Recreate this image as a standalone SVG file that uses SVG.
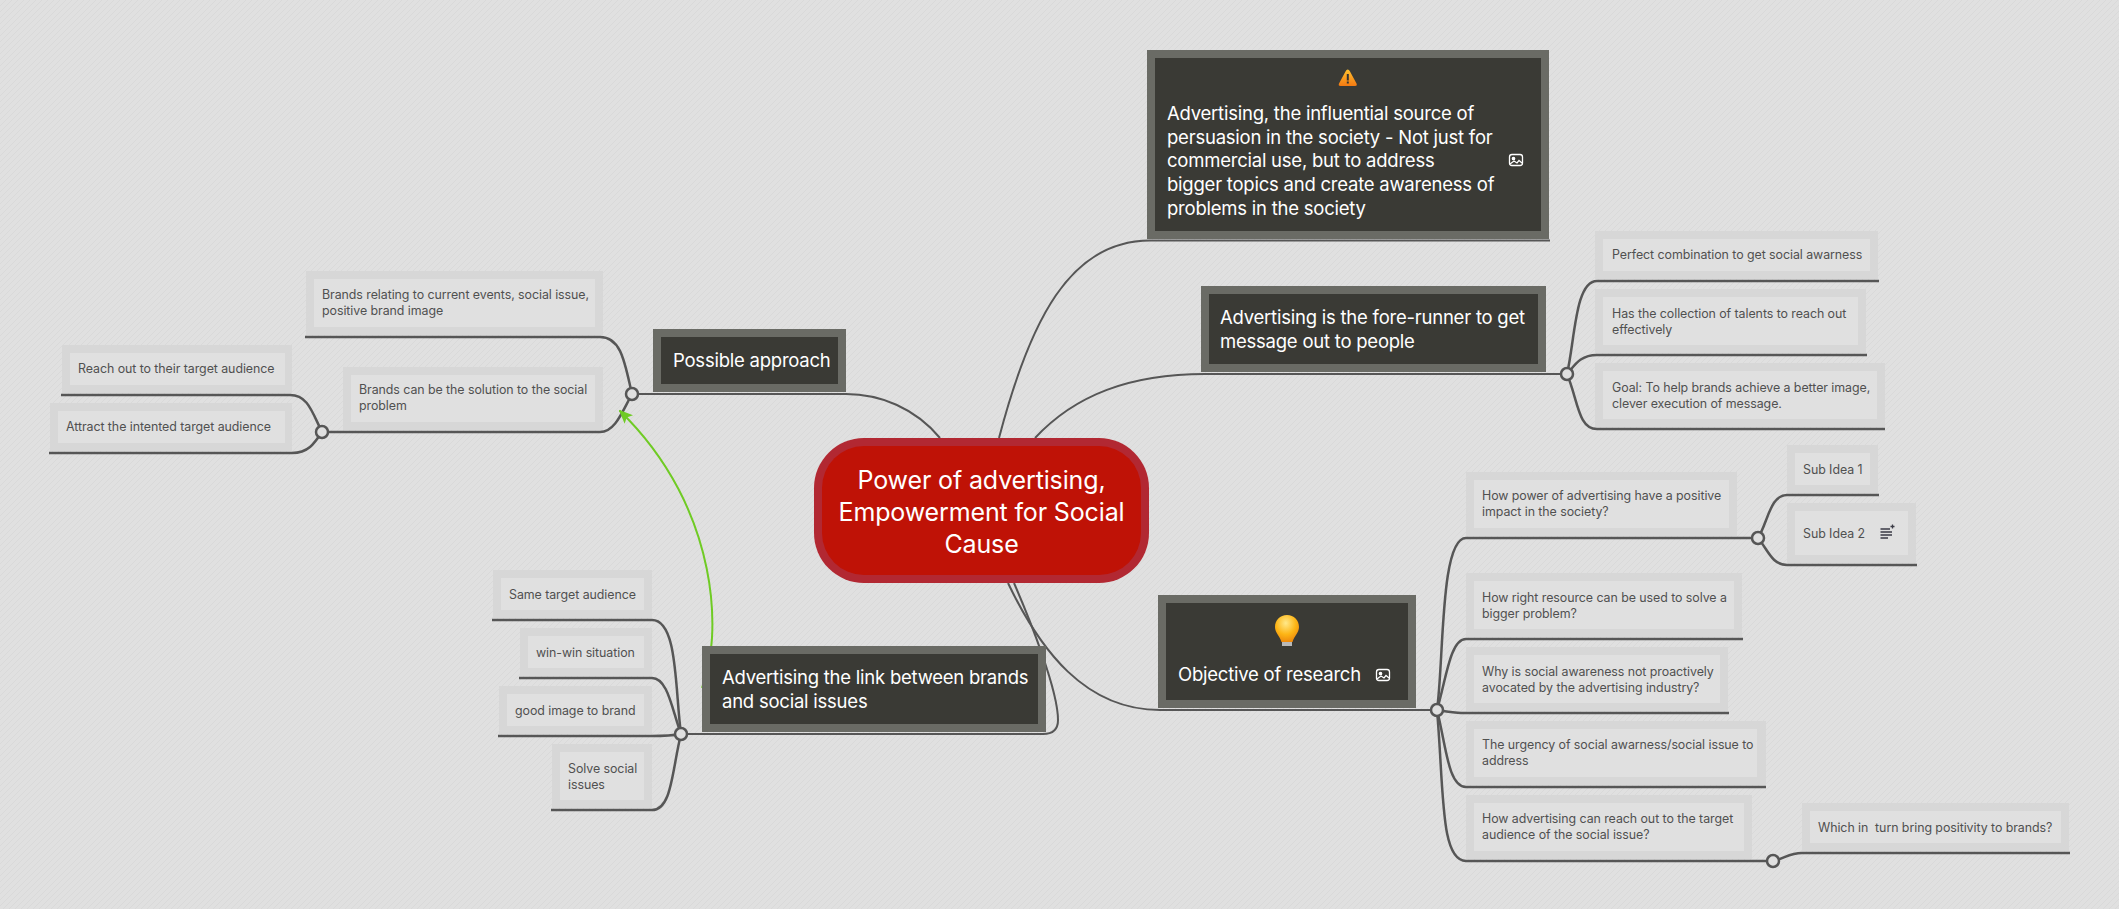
<svg xmlns="http://www.w3.org/2000/svg" width="2119" height="909" viewBox="0 0 2119 909">
<style>
text{font-family:"Inter","Noto Sans",sans-serif}
.mo{fill:#6a6b65}.mi{fill:#3a3a35}.mt{fill:#fff;font-size:18.500px;letter-spacing:-.23px}
.so{fill:#d7d7d7}.si{fill:#e0e0e0}.st{fill:#505050;font-size:12.400px;letter-spacing:-.06px}
.rt{fill:#fff;font-size:25px;letter-spacing:-.14px;text-anchor:middle}
.l{fill:none;stroke:#565656;stroke-width:2}.b{fill:none;stroke:#565656;stroke-width:2.500}
.c{fill:#e0e0e0;stroke:#565656;stroke-width:2.500}
.ic{fill:none;stroke:#fff;stroke-width:1.300}
</style>
<defs>
<pattern id="bg" width="6" height="6" patternUnits="userSpaceOnUse"><rect width="6" height="6" fill="#e0e0e0"/><path d="M-1 7L7 -1M-1 1L1 -1M5 7L7 5" stroke="#d9d9d9" stroke-width="1"/></pattern>
<linearGradient id="warn" x1="0" y1="0" x2="0" y2="1"><stop offset="0" stop-color="#ffc02e"/><stop offset="1" stop-color="#f47a12"/></linearGradient>
<radialGradient id="bulb" cx=".45" cy=".3" r=".7"><stop offset="0" stop-color="#ffe98a"/><stop offset=".6" stop-color="#fdb515"/><stop offset="1" stop-color="#ee8a0c"/></radialGradient>
<marker id="ah" viewBox="0 0 14 14" refX="13" refY="7" markerWidth="14" markerHeight="14" markerUnits="userSpaceOnUse" orient="auto"><path d="M0 1L14 7L0 13L3 7z" fill="#6fcb24"/></marker>
</defs>
<rect width="2119" height="909" fill="url(#bg)"/>
<g id="connectors">
<path class="l" d="M940 438C915 408 880 394 846 394H632"/>
<path class="l" d="M999 438C1030 320 1070 240.500 1150 240.500H1550"/>
<path class="l" d="M1035 438C1075 395 1130 374 1205 374H1567"/>
<path class="l" d="M1008 583C1040 650 1085 710 1160 710H1437"/>
<path class="l" d="M1014 583C1030 620 1058 690 1058 720Q1058 734 1043 734H681"/>
<path class="b" d="M632 394C625 365 622 337 600 337H305"/>
<path class="b" d="M632 394C622 412 615 432 600 432H322"/>
<path class="b" d="M322 432C312 412 308 395 290 395H61"/>
<path class="b" d="M322 432C314 444 308 453 292 453H49"/>
<path class="b" d="M681 734C675 690 678 620 652 620H492"/>
<path class="b" d="M681 734C672 710 668 678 652 678H519"/>
<path class="b" d="M681 734C670 736 665 736 652 736H498"/>
<path class="b" d="M681 734C672 770 672 810 652 810H551"/>
<path class="b" d="M1567 374C1575 340 1575 281 1597 281H1879"/>
<path class="b" d="M1567 374C1575 365 1580 355 1597 355H1867"/>
<path class="b" d="M1567 374C1578 400 1578 429 1597 429H1885"/>
<path class="b" d="M1437 710C1444 660 1440 538 1466 538H1758"/>
<path class="b" d="M1437 710C1446 680 1450 639 1466 639H1743"/>
<path class="b" d="M1437 710C1450 712 1455 713 1466 713H1729"/>
<path class="b" d="M1437 710C1446 745 1448 787 1466 787H1766"/>
<path class="b" d="M1437 710C1444 790 1440 861 1466 861H1773"/>
<path class="b" d="M1758 538C1768 522 1770 495 1787 495H1879"/>
<path class="b" d="M1758 538C1768 550 1772 565 1787 565H1917"/>
<path class="b" d="M1773 861C1785 858 1790 853 1802 853H2070"/>
<path d="M702 688C722 640 722 510 619.500 410.500" fill="none" stroke="#6fcb24" stroke-width="2" marker-end="url(#ah)"/>
<circle class="c" cx="632" cy="394" r="6"/><circle class="c" cx="322" cy="432" r="6"/><circle class="c" cx="681" cy="734" r="6"/><circle class="c" cx="1567" cy="374" r="6"/><circle class="c" cx="1437" cy="710" r="6"/><circle class="c" cx="1758" cy="538" r="6"/><circle class="c" cx="1773" cy="861" r="6"/>
</g>
<g id="root"><rect x="814" y="438" width="335" height="145" rx="50" fill="#b22832"/><rect x="822" y="446" width="319" height="129" rx="42" fill="#bf1206"/>
<text class="rt" x="981.500" y="489">Power of advertising,</text><text class="rt" x="981.500" y="521">Empowerment for Social</text><text class="rt" x="981.500" y="553">Cause</text></g>
<g id="n-warning"><rect class="mo" x="1147" y="50" width="402" height="189"/><rect class="mi" x="1155" y="58" width="386" height="173"/>
<path d="M1347.700 69.500Q1349 69.500 1350 71.500L1356.500 83.500Q1357.500 86 1355 86H1340.500Q1338 86 1339 83.500L1345.500 71.500Q1346.500 69.500 1347.700 69.500Z" fill="url(#warn)"/><rect x="1346.800" y="74" width="2" height="6.500" fill="#333"/><rect x="1346.800" y="81.500" width="2" height="2" fill="#333"/>
<text class="mt" x="1167" y="119.500">Advertising, the influential source of</text><text class="mt" x="1167" y="143.500">persuasion in the society - Not just for</text><text class="mt" x="1167" y="167">commercial use, but to address</text><text class="mt" x="1167" y="191">bigger topics and create awareness of</text><text class="mt" x="1167" y="214.500">problems in the society</text>
<g class="ic"><rect x="1509.500" y="154.500" width="13" height="11" rx="2.500"/><circle cx="1513.500" cy="158.500" r="1.200" fill="#fff"/><path d="M1510 164L1514 161L1517 163L1519 160.500L1522 163"/></g></g>
<g id="n-forerunner"><rect class="mo" x="1201" y="286" width="345" height="86"/><rect class="mi" x="1209" y="294" width="329" height="70"/><text class="mt" x="1220" y="323.500">Advertising is the fore-runner to get</text><text class="mt" x="1220" y="347.500">message out to people</text></g>
<g id="n-objective"><rect class="mo" x="1158" y="595" width="258" height="113"/><rect class="mi" x="1166" y="603" width="242" height="97"/>
<path d="M1287 615C1294 615 1299 620 1299 627C1299 633 1294 636 1292.500 642H1281.500C1280 636 1275 633 1275 627C1275 620 1280 615 1287 615Z" fill="url(#bulb)"/><rect x="1282" y="642" width="10" height="4" fill="#b8b8b8"/>
<text class="mt" x="1178" y="680.500">Objective of research</text>
<g class="ic"><rect x="1376.500" y="669.500" width="13" height="11" rx="2.500"/><circle cx="1380.500" cy="673.500" r="1.200" fill="#fff"/><path d="M1377 679L1381 676L1384 678L1386 675.500L1389 678"/></g></g>
<g id="n-approach"><rect class="mo" x="653" y="329" width="193" height="63"/><rect class="mi" x="661" y="337" width="177" height="47"/><text class="mt" x="673" y="366.500">Possible approach</text></g>
<g id="n-link"><rect class="mo" x="702" y="646" width="344" height="86"/><rect class="mi" x="710" y="654" width="328" height="70"/><text class="mt" x="722" y="683.500">Advertising the link between brands</text><text class="mt" x="722" y="707.500">and social issues</text></g>
<g id="s1"><rect class="so" x="306" y="271" width="297" height="64"/><rect class="si" x="314" y="279" width="281" height="48"/><text class="st" x="322" y="299">Brands relating to current events, social issue,</text><text class="st" x="322" y="315">positive brand image</text></g>
<g id="s2"><rect class="so" x="343" y="367" width="260" height="63"/><rect class="si" x="351" y="375" width="244" height="47"/><text class="st" x="359" y="394">Brands can be the solution to the social</text><text class="st" x="359" y="410">problem</text></g>
<g id="s3"><rect class="so" x="62" y="345" width="230" height="48"/><rect class="si" x="70" y="353" width="215" height="32"/><text class="st" x="78" y="373">Reach out to their target audience</text></g>
<g id="s4"><rect class="so" x="50" y="403" width="242" height="48"/><rect class="si" x="58" y="411" width="227" height="32"/><text class="st" x="66" y="431">Attract the intented target audience</text></g>
<g id="s5"><rect class="so" x="493" y="570" width="159" height="48"/><rect class="si" x="501" y="578" width="143" height="32"/><text class="st" x="509" y="599">Same target audience</text></g>
<g id="s6"><rect class="so" x="520" y="628" width="132" height="48"/><rect class="si" x="528" y="636" width="116" height="32"/><text class="st" x="536" y="657">win-win situation</text></g>
<g id="s7"><rect class="so" x="499" y="686" width="153" height="48"/><rect class="si" x="507" y="694" width="137" height="32"/><text class="st" x="515" y="715">good image to brand</text></g>
<g id="s8"><rect class="so" x="552" y="744" width="100" height="64"/><rect class="si" x="560" y="752" width="84" height="48"/><text class="st" x="568" y="773">Solve social</text><text class="st" x="568" y="789">issues</text></g>
<g id="s9"><rect class="so" x="1595" y="231" width="283" height="48"/><rect class="si" x="1603" y="239" width="267" height="32"/><text class="st" x="1612" y="259">Perfect combination to get social awarness</text></g>
<g id="s10"><rect class="so" x="1595" y="289" width="271" height="64"/><rect class="si" x="1603" y="297" width="255" height="48"/><text class="st" x="1612" y="318">Has the collection of talents to reach out</text><text class="st" x="1612" y="334">effectively</text></g>
<g id="s11"><rect class="so" x="1595" y="363" width="290" height="64"/><rect class="si" x="1603" y="371" width="274" height="48"/><text class="st" x="1612" y="392">Goal: To help brands achieve a better image,</text><text class="st" x="1612" y="408">clever execution of message.</text></g>
<g id="s12"><rect class="so" x="1466" y="472" width="271" height="64"/><rect class="si" x="1474" y="480" width="255" height="48"/><text class="st" x="1482" y="500">How power of advertising have a positive</text><text class="st" x="1482" y="516">impact in the society?</text></g>
<g id="s13"><rect class="so" x="1466" y="573" width="276" height="64"/><rect class="si" x="1474" y="581" width="260" height="48"/><text class="st" x="1482" y="602">How right resource can be used to solve a</text><text class="st" x="1482" y="618">bigger problem?</text></g>
<g id="s14"><rect class="so" x="1466" y="647" width="262" height="64"/><rect class="si" x="1474" y="655" width="246" height="48"/><text class="st" x="1482" y="676">Why is social awareness not proactively</text><text class="st" x="1482" y="692">avocated by the advertising industry?</text></g>
<g id="s15"><rect class="so" x="1466" y="721" width="300" height="64"/><rect class="si" x="1474" y="729" width="283" height="48"/><text class="st" x="1482" y="749">The urgency of social awarness/social issue to</text><text class="st" x="1482" y="765">address</text></g>
<g id="s16"><rect class="so" x="1466" y="795" width="286" height="64"/><rect class="si" x="1474" y="803" width="270" height="48"/><text class="st" x="1482" y="823">How advertising can reach out to the target</text><text class="st" x="1482" y="839">audience of the social issue?</text></g>
<g id="s17"><rect class="so" x="1802" y="803" width="267" height="48"/><rect class="si" x="1810" y="811" width="251" height="32"/><text class="st" x="1818" y="832" xml:space="preserve">Which in  turn bring positivity to brands?</text></g>
<g id="s18"><rect class="so" x="1787" y="445" width="91" height="48"/><rect class="si" x="1795" y="453" width="75" height="32"/><text class="st" x="1803" y="474">Sub Idea 1</text></g>
<g id="s19"><rect class="so" x="1787" y="503" width="129" height="60"/><rect class="si" x="1795" y="511" width="113" height="44"/><text class="st" x="1803" y="538">Sub Idea 2</text><path d="M1880.500 529H1890M1880.500 532H1892M1880.500 535H1892M1880.500 538H1888M1890.500 526.500H1894.500M1892.500 524.500V528.500" fill="none" stroke="#3a3a45" stroke-width="1.300"/></g>
</svg>
